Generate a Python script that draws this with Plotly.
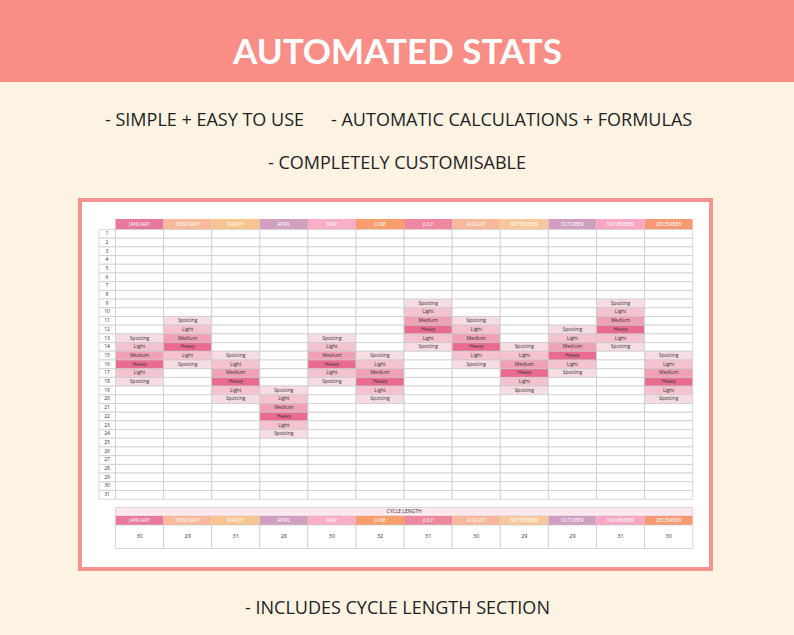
import plotly.graph_objects as go

months = ["JANUARY","FEBRUARY","MARCH","APRIL","MAY","JUNE","JULY","AUGUST","SEPTEMBER","OCTOBER","NOVEMBER","DECEMBER"]
month_colors = ["#E8799A","#F9B99A","#F8C48F","#D1A0C0","#F9AFC6","#F89E6C","#EE87A0","#F9B89C","#F9C89A","#D09EC0","#F8A8C4","#F79A73"]
period_start = [13,11,15,19,13,15,9,11,14,12,9,15]
flow_sequence = ["Spotting","Light","Medium","Heavy","Light","Spotting"]
flow_colors = {"Spotting":"#F7DDE3","Light":"#F5C3D0","Medium":"#F0A1B6","Heavy":"#EA6B90"}
cycle_length = [30,29,31,28,30,32,31,30,29,29,31,30]
days = list(range(1,32))

W, H = 794, 635
fig = go.Figure()
shapes = []
def rect(x0,y0,x1,y1,fill,line="rgba(0,0,0,0)",lw=0):
    shapes.append(dict(type="rect",xref="x",yref="y",x0=x0,y0=y0,x1=x1,y1=y1,
                       fillcolor=fill,line=dict(color=line,width=lw),layer="below"))

rect(0,0,W,H,"#FDF3E3")
rect(0,0,W,82,"#F98E87")
rect(78,198,713,571,"#F5938F")
rect(82,202,709,567,"#FFFFFF")

gx0, cw = 115.5, 48.1
rx0 = 99
hy0, hy1 = 219, 229.5
rh = 8.7
grid = "#C8C8C8"

for i,(m,c) in enumerate(zip(months,month_colors)):
    rect(gx0+i*cw, hy0, gx0+(i+1)*cw, hy1, c)
txt_x, txt_y, txt_s = [], [], []
for i in range(12):
    for d in days:
        y0 = hy1 + (d-1)*rh
        fill = "#FFFFFF"
        k = d - period_start[i]
        if 0 <= k < len(flow_sequence):
            fill = flow_colors[flow_sequence[k]]
            txt_x.append(gx0+(i+0.5)*cw); txt_y.append(y0+rh/2); txt_s.append(flow_sequence[k])
        rect(gx0+i*cw, y0, gx0+(i+1)*cw, y0+rh, fill, grid, 0.7)
for d in days:
    y0 = hy1 + (d-1)*rh
    rect(rx0, y0, gx0, y0+rh, "#FFFFFF", grid, 0.7)

cy0, cy1, cy2, cy3 = 507.5, 516, 525, 548.5
gend = gx0+12*cw
rect(gx0, cy0, gend, cy1, "#FDE9EE", grid, 0.7)
for i,c in enumerate(month_colors):
    rect(gx0+i*cw, cy1, gx0+(i+1)*cw, cy2, c)
    rect(gx0+i*cw, cy2, gx0+(i+1)*cw, cy3, "#FFFFFF", grid, 0.7)

fig.add_trace(go.Scatter(x=txt_x, y=txt_y, text=txt_s, mode="text",
    textfont=dict(size=5, color="#333333", family="Open Sans"), hoverinfo="skip"))
fig.add_trace(go.Scatter(x=[rx0+8]*31, y=[hy1+(d-0.5)*rh for d in days], text=[str(d) for d in days],
    mode="text", textfont=dict(size=5, color="#333333", family="Open Sans"), hoverinfo="skip"))
fig.add_trace(go.Scatter(x=[gx0+(i+0.5)*cw for i in range(12)]*2,
    y=[(hy0+hy1)/2]*12+[(cy1+cy2)/2]*12, text=months*2, mode="text",
    textfont=dict(size=5, color="#FFFFFF", family="Open Sans"), hoverinfo="skip"))
fig.add_trace(go.Scatter(x=[gx0+(i+0.5)*cw for i in range(12)], y=[(cy2+cy3)/2]*12,
    text=[str(v) for v in cycle_length], mode="text",
    textfont=dict(size=5.5, color="#333333", family="Open Sans"), hoverinfo="skip"))
fig.add_trace(go.Scatter(x=[(gx0+gend)/2], y=[(cy0+cy1)/2], text=["CYCLE LENGTH"], mode="text",
    textfont=dict(size=5, color="#333333", family="Open Sans"), hoverinfo="skip"))

anns = [
    dict(x=397,y=50,text="<b>AUTOMATED STATS</b>",font=dict(size=35,color="#FFFFFF",family="Lato",weight=900)),
    dict(x=204,y=119,text="- SIMPLE + EASY TO USE",font=dict(size=18,color="#222222",family="Open Sans")),
    dict(x=511,y=119,text="- AUTOMATIC CALCULATIONS + FORMULAS",font=dict(size=18,color="#222222",family="Open Sans")),
    dict(x=397,y=162,text="- COMPLETELY CUSTOMISABLE",font=dict(size=18,color="#222222",family="Open Sans")),
    dict(x=397,y=607,text="- INCLUDES CYCLE LENGTH SECTION",font=dict(size=18,color="#222222",family="Open Sans")),
]
for a in anns:
    a.update(xref="x",yref="y",showarrow=False,xanchor="center",yanchor="middle")

fig.update_layout(width=W,height=H,margin=dict(l=0,r=0,t=0,b=0),showlegend=False,
    shapes=shapes,annotations=anns,paper_bgcolor="#FDF3E3",plot_bgcolor="#FDF3E3",
    xaxis=dict(range=[0,W],visible=False,fixedrange=True),
    yaxis=dict(range=[H,0],visible=False,fixedrange=True))
fig.write_html("out.html", config={"displayModeBar":False})
with open("out.html") as f:
    html = f.read()
html = html.replace("<body>", '<body style="margin:0;overflow:hidden">', 1)
with open("out.html","w") as f:
    f.write(html)
